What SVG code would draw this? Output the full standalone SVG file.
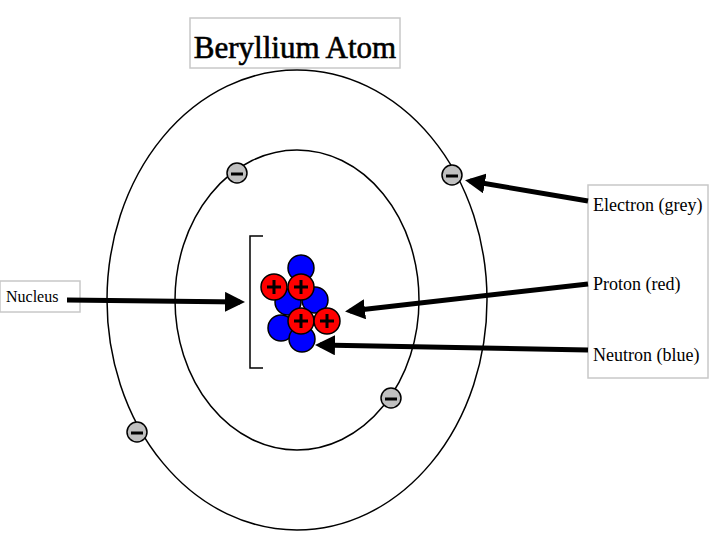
<svg xmlns="http://www.w3.org/2000/svg" width="728" height="546" viewBox="0 0 728 546">
<style>
.orb{fill:none;stroke:#000;stroke-width:1.5}
.e{fill:#c0c0c0;stroke:#000;stroke-width:1.5}
.p{fill:#f00;stroke:#000;stroke-width:1.5}
.n{fill:#00f;stroke:#000;stroke-width:1.5}
.sg{stroke:#000;stroke-width:3}
.box{fill:#fff;stroke:#c8c8c8;stroke-width:1.5}
.t{font-family:"Liberation Serif",serif;fill:#000}
.ar{stroke:#000;stroke-width:5;fill:none;marker-end:url(#ah)}
</style>
<defs>
<marker id="ah" markerWidth="4" markerHeight="4" refX="3" refY="2" orient="auto" markerUnits="strokeWidth"><path d="M0,0L4,2L0,4z" fill="#000"/></marker>
</defs>
<rect width="728" height="546" fill="#fff"/>
<g id="orbits">
<ellipse class="orb" cx="297" cy="300" rx="190" ry="230"/>
<ellipse class="orb" cx="297" cy="300" rx="122" ry="150"/>
</g>
<g id="title"><rect class="box" x="190" y="18" width="210" height="50"/><text class="t" x="295" y="58" font-size="31" text-anchor="middle" stroke="#000" stroke-width="0.6">Beryllium Atom</text></g>
<g id="electrons">
<circle class="e" cx="237" cy="173" r="10"/><line class="sg" x1="231" y1="174" x2="243" y2="174"/>
<circle class="e" cx="452" cy="175" r="10"/><line class="sg" x1="446" y1="176" x2="458" y2="176"/>
<circle class="e" cx="391" cy="398" r="10"/><line class="sg" x1="385" y1="399" x2="397" y2="399"/>
<circle class="e" cx="137" cy="432" r="10"/><line class="sg" x1="131" y1="433" x2="143" y2="433"/>
</g>
<g id="nucleus">
<path d="M263,236H250V368H263" fill="none" stroke="#000" stroke-width="1.5"/>
<circle class="n" cx="301" cy="268" r="13"/>
<circle class="n" cx="288" cy="302" r="13"/>
<circle class="n" cx="315" cy="300" r="13"/>
<circle class="n" cx="281" cy="328" r="13"/>
<circle class="n" cx="302" cy="339" r="13"/>
<g stroke="#000" stroke-width="3">
<circle class="p" cx="274" cy="287" r="13"/><path d="M267,287h14M274,280v14"/>
<circle class="p" cx="301" cy="287" r="13"/><path d="M294,287h14M301,280v14"/>
<circle class="p" cx="301" cy="321" r="13"/><path d="M294,321h14M301,314v14"/>
<circle class="p" cx="327" cy="321" r="13"/><path d="M320,321h14M327,314v14"/>
</g>
</g>
<g id="labels">
<rect class="box" x="0" y="281" width="80" height="31"/><text class="t" x="6" y="302" font-size="16">Nucleus</text>
<rect class="box" x="588" y="185" width="120" height="193"/>
<text class="t" x="593" y="211" font-size="18">Electron (grey)</text>
<text class="t" x="593" y="290" font-size="18">Proton (red)</text>
<text class="t" x="593" y="361" font-size="18">Neutron (blue)</text>
</g>
<g id="connectors">
<line class="ar" x1="67" y1="300" x2="240" y2="302"/>
<line class="ar" x1="588" y1="201" x2="470" y2="181"/>
<line class="ar" x1="588" y1="284" x2="350" y2="311"/>
<line class="ar" x1="588" y1="350" x2="320" y2="345"/>
</g>
</svg>
